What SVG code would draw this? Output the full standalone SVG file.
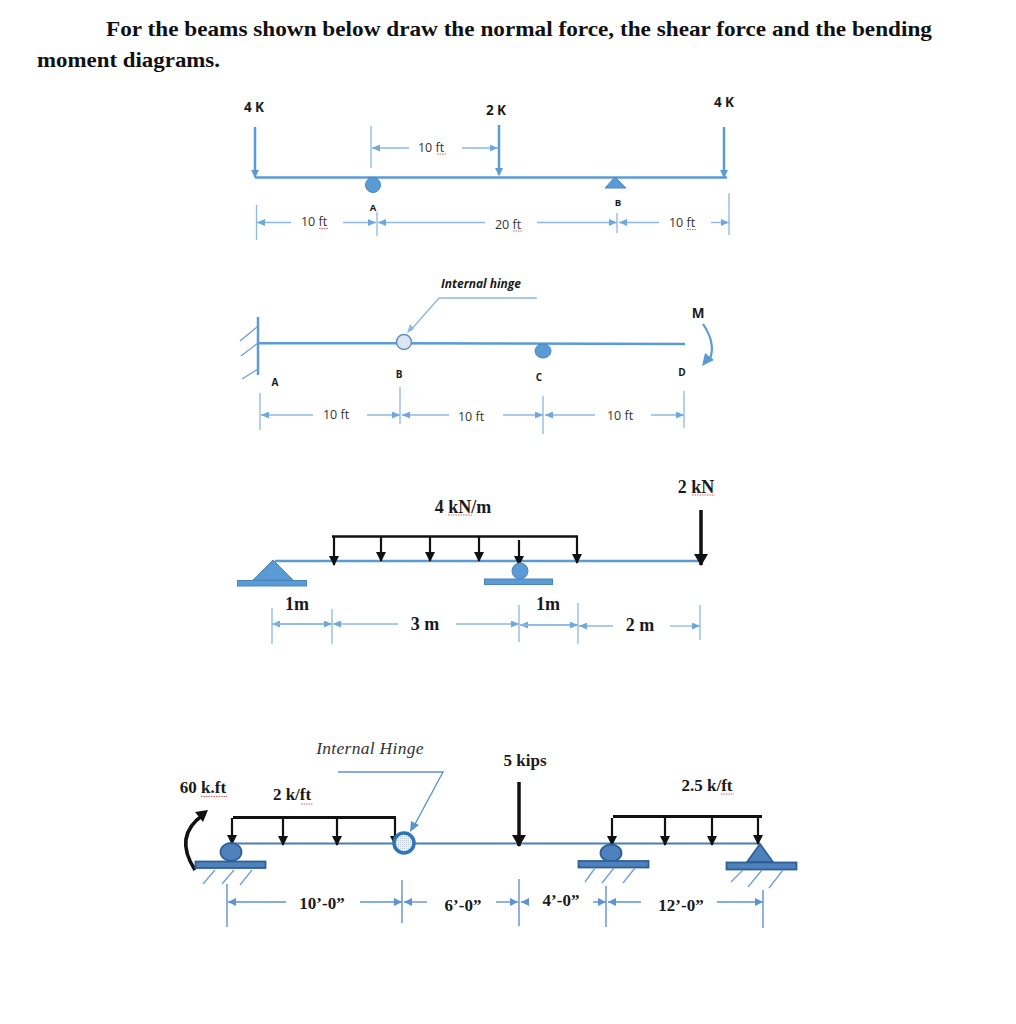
<svg xmlns="http://www.w3.org/2000/svg" width="1016" height="1024" viewBox="0 0 1016 1024">
<style>
text{fill:#1a1a1a}
.t{font:bold 22px "Liberation Serif",serif;fill:#111}
.s{font:12.500px "Open Sans",sans-serif;text-anchor:middle;fill:#333}
.sb{font:bold 13.500px "Open Sans",sans-serif;text-anchor:middle}
.sl{font:bold 9.500px "Open Sans",sans-serif;text-anchor:middle}
.r{font:bold 18px "Liberation Serif",serif;text-anchor:middle}
.r2{font:bold 17px "Liberation Serif",serif;text-anchor:middle}
.it{font:italic 17.500px "Liberation Serif",serif;text-anchor:middle;fill:#333}
.beam{fill:none;stroke:#5b9bd5;stroke-width:2.500}
.beam4{fill:none;stroke:#4a7ebb;stroke-width:1.800}
.dim{fill:none;stroke:#8db8e2;stroke-width:1.300}
.dima{fill:none;stroke:#8db8e2;stroke-width:1.300;marker-end:url(#da)}
.dim4{fill:none;stroke:#5f93cf;stroke-width:1.400}
.dim4a{fill:none;stroke:#5f93cf;stroke-width:1.400;marker-end:url(#da4)}
.fb{fill:none;stroke:#5b9bd5;stroke-width:2.500;marker-end:url(#ab)}
.fk{fill:none;stroke:#111;stroke-width:2.200;marker-end:url(#ak)}
.fk3{fill:none;stroke:#111;stroke-width:3.500;marker-end:url(#ak3)}
.ln{fill:none;stroke:#111;stroke-width:2.500}
.sup{fill:#5b9bd5;stroke:#4a86bd;stroke-width:1}
.sup4{fill:#4f81bd;stroke:#2f5f96;stroke-width:1.800}
.hat{fill:none;stroke:#6f9fd8;stroke-width:1.300}
.sq{fill:none;stroke:#e06060;stroke-width:1;stroke-dasharray:1.500 1}
</style>
<defs>
<marker id="da" markerUnits="userSpaceOnUse" markerWidth="8" markerHeight="7" refX="8" refY="3.500" orient="auto"><path d="M0 0L8 3.500L0 7Z" fill="#6fa8dc"/></marker>
<marker id="da4" markerUnits="userSpaceOnUse" markerWidth="8" markerHeight="8" refX="8" refY="4" orient="auto"><path d="M0 0L8 4L0 8Z" fill="#5f93cf"/></marker>
<marker id="ab" markerUnits="userSpaceOnUse" markerWidth="8" markerHeight="8" refX="7" refY="4" orient="auto"><path d="M0 0L8 4L0 8Z" fill="#5b9bd5"/></marker>
<marker id="ak" markerUnits="userSpaceOnUse" markerWidth="10" markerHeight="10" refX="9" refY="5" orient="auto"><path d="M0 0L10 5L0 10Z" fill="#111"/></marker>
<marker id="ak3" markerUnits="userSpaceOnUse" markerWidth="12" markerHeight="14" refX="11" refY="7" orient="auto"><path d="M0 0L12 7L0 14Z" fill="#111"/></marker>
<pattern id="dots" width="2" height="2" patternUnits="userSpaceOnUse"><rect width="2" height="2" fill="#eef2f8"/><rect width="1" height="1" fill="#c0ccd8"/></pattern>
</defs>
<g id="title">
<text class="t" x="106" y="36" textLength="826" lengthAdjust="spacingAndGlyphs">For the beams shown below draw the normal force, the shear force and the bending</text>
<text class="t" x="37" y="67" textLength="183" lengthAdjust="spacingAndGlyphs">moment diagrams.</text>
</g>

<g id="connectors">
<path class="beam" d="M255 177.500H727"/>
<path class="fb" d="M255 127V177"/><path class="fb" d="M499 125V175"/><path class="fb" d="M724 127V177"/>
<path class="dim" d="M371 126V168M256.500 205V240M377 212V236M617 213V233M729 193V235"/>
<path class="dima" d="M409 148H372"/><path class="dima" d="M462 148H498"/>
<path class="dima" d="M291 222.500H257"/><path class="dima" d="M343 222.500H376"/>
<path class="dima" d="M485 222.500H378"/><path class="dima" d="M537 222.500H617"/>
<path class="dima" d="M659 222.500H619"/><path class="dima" d="M711 222.500H729"/>
<path class="beam" d="M258 317V375M258 343L685 344"/>
<path class="hat" d="M240 341L257 327M241 356L258 343M242 379L258 369"/>
<path class="dim" d="M537 298H439L410 331"/>
<path d="M410 331L413 322L417 327Z" fill="#8db8e2" transform="translate(-3 2)"/>
<path class="dim" d="M260 393V430M400 387V424M543 396V434M684 391V428"/>
<path class="dima" d="M313 415H261"/><path class="dima" d="M367 415H400"/>
<path class="dima" d="M449 415H402"/><path class="dima" d="M503 415H543"/>
<path class="dima" d="M595 415H545"/><path class="dima" d="M651 415H684"/>
<path d="M703 324Q716 343 710 359" fill="none" stroke="#5b9bd5" stroke-width="2.200"/>
<path d="M702 366L705 353L714 360Z" fill="#5b9bd5"/>
<path class="beam" d="M275 561H701"/>
<path class="ln" d="M332 536.500H578"/>
<path class="fk" d="M334 537V565"/><path class="fk" d="M381 537V561"/><path class="fk" d="M430 537V561"/><path class="fk" d="M479 537V561"/><path class="fk" d="M519 540V565"/><path class="fk" d="M577 537V563"/>
<path class="fk3" d="M701 510V565"/>
<path class="dim" d="M272 608V644M332 609V644M519 605V642M578 603V644M700 605V640"/>
<path class="dima" d="M332 624H272"/><path class="dima" d="M272 624H332"/>
<path class="dima" d="M398 624H333"/><path class="dima" d="M456 624H519"/>
<path class="dima" d="M578 625H520"/><path class="dima" d="M520 625H578"/>
<path class="dima" d="M613 626H579"/><path class="dima" d="M670 626H700"/>
<path class="beam4" d="M232 843.500H760"/>
<path class="ln" d="M233 817.500H396M613 816.500H762" style="stroke-width:3"/>
<path class="fk" d="M232 818V844"/><path class="fk" d="M283 818V845"/><path class="fk" d="M337 818V845"/><path class="fk" d="M395 818V845"/>
<path class="fk3" d="M519 782V846"/>
<path class="fk" d="M612 818V845"/><path class="fk" d="M665 818V845"/><path class="fk" d="M712 818V845"/><path class="fk" d="M758 818V844"/>
<path class="dim4" d="M338 772H443L414 826"/>
<path d="M410 832L411 821L419 825Z" fill="#5f93cf"/>
<path d="M195 870Q173 836 203 815" fill="none" stroke="#111" stroke-width="3.500"/>
<path d="M208 810L203 822L195 812Z" fill="#111"/>
<path class="dim4" d="M227 884V927M402 880V923M519 879V926M606 886V927M763 890V928"/>
<path class="dim4a" d="M286 902H228"/><path class="dim4a" d="M360 902H402"/>
<path class="dim4a" d="M427 902H404"/><path class="dim4a" d="M496 902H518"/><path class="dim4a" d="M526 902H521"/>
<path class="dim4a" d="M593 902H606"/><path class="dim4a" d="M641 902H608"/><path class="dim4a" d="M717 902H763"/>
</g>

<g id="beam1-labels">
<text class="sb" x="254" y="112">4 K</text><text class="sb" x="496" y="115">2 K</text><text class="sb" x="724" y="107">4 K</text>
<text class="s" x="431" y="152">10 ft</text><text class="s" x="314" y="226">10 ft</text><text class="s" x="508" y="229">20 ft</text><text class="s" x="682" y="227">10 ft</text>
<text class="sl" x="373" y="211">A</text><text class="sl" x="618" y="206">B</text>
<path class="sq" d="M437 154H447M319 228.500H329M513 231H522M687 229.500H697"/>
</g>
<g id="support-A"><circle class="sup" cx="373" cy="185" r="7.500"/></g>
<g id="support-B"><path class="sup" d="M615 177L626 188H605Z"/></g>

<g id="beam2-labels">
<text style="font:italic bold 12px 'Open Sans',sans-serif;text-anchor:middle" x="481" y="288">Internal hinge</text>
<text class="sb" x="698" y="318">M</text>
<text class="sl" x="275" y="386" style="font-size:10px">A</text><text class="sl" x="399" y="378" style="font-size:10px">B</text><text class="sl" x="539" y="381" style="font-size:10px">C</text><text class="sl" x="682" y="376" style="font-size:10px">D</text>
<text class="s" x="336" y="419">10 ft</text><text class="s" x="471" y="421">10 ft</text><text class="s" x="620" y="420">10 ft</text>
</g>
<g id="hinge-B"><circle cx="404" cy="342" r="7.500" fill="#dce6f2" stroke="#5f8fbf" stroke-width="1.500"/></g>
<g id="support-C"><ellipse class="sup" cx="543" cy="351" rx="8" ry="7"/></g>

<g id="beam3-labels">
<text class="r" x="463" y="513">4 kN/m</text><text class="r" x="696" y="493">2 kN</text>
<text class="r" x="297" y="610">1m</text><text class="r" x="425" y="630">3 m</text><text class="r" x="548" y="610">1m</text><text class="r" x="640" y="631">2 m</text>
<path class="sq" d="M448 515H472M692 495H715"/>
</g>
<g id="pin-support-3"><path class="sup" d="M273 560L293 580H253Z"/><rect class="sup" x="237.500" y="580.500" width="69" height="5.500"/></g>
<g id="roller-support-3"><circle class="sup" cx="520" cy="571" r="8"/><rect class="sup" x="484.500" y="579" width="68" height="5.500"/></g>

<g id="beam4-labels">
<text class="it" x="370" y="754" style="letter-spacing:.3px">Internal Hinge</text>
<text class="r2" x="203" y="793">60 k.ft</text><text class="r2" x="292" y="800">2 k/ft</text><text class="r2" x="525" y="766">5 kips</text><text class="r2" x="707" y="791">2.5 k/ft</text>
<text class="r2" x="322" y="909">10’-0”</text><text class="r2" x="463" y="911">6’-0”</text><text class="r2" x="561" y="906">4’-0”</text><text class="r2" x="681" y="911">12’-0”</text>
<path class="sq" d="M201 796.500H227M301 804H313M721 794H734"/>
</g>
<g id="roller-support-4a"><ellipse class="sup4" cx="231" cy="852" rx="10.500" ry="9"/><rect class="sup4" x="195.500" y="861.500" width="70" height="6.500"/><path class="hat" d="M203 884L215 870M222 884L234 870M240 885L252 870"/></g>
<g id="hinge-4"><circle cx="404" cy="843" r="10" fill="url(#dots)" stroke="#2e75b6" stroke-width="3.500"/></g>
<g id="roller-support-4b"><ellipse class="sup4" cx="611" cy="853" rx="10.500" ry="8.500"/><rect class="sup4" x="578.500" y="861" width="70" height="6.500"/><path class="hat" d="M585 882L595 868M602 883L614 868M623 883L635 868"/></g>
<g id="pin-support-4"><path class="sup4" d="M760 844L773 862H747Z"/><rect class="sup4" x="726.500" y="862.500" width="70" height="7"/><path class="hat" d="M731 882L743 870M748 887L762 870M769 888L783 870"/></g>
</svg>
